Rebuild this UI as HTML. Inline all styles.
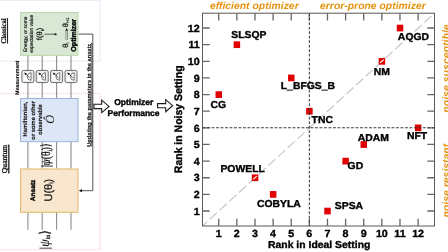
<!DOCTYPE html>
<html><head><meta charset="utf-8"><title>Optimizer Performance</title>
<style>
html,body{margin:0;padding:0;background:#fff;}
body{width:448px;height:252px;overflow:hidden;font-family:"Liberation Sans",sans-serif;}
svg{display:block;}
text{fill:#111;text-rendering:geometricPrecision;}
.d{font-weight:bold;font-family:"Liberation Sans",sans-serif;fill:#000;}
.b{font-weight:bold;font-family:"Liberation Sans",sans-serif;fill:#000;stroke:#000;stroke-width:0.36px;paint-order:stroke;}
.s{font-family:"Liberation Serif","DejaVu Serif",serif;stroke:#111;stroke-width:0.2px;}
.sb{font-family:"Liberation Serif",serif;font-weight:bold;stroke:#111;stroke-width:0.2px;}
.si{font-family:"Liberation Serif",serif;font-style:italic;}
.n{font-family:"Liberation Sans","DejaVu Sans",sans-serif;stroke:#111;stroke-width:0.2px;}
.ss{font-family:"Liberation Serif",serif;fill:#000;stroke:#000;stroke-width:0.3px;}
.ns{font-family:"Liberation Sans",sans-serif;stroke:#111;stroke-width:0.18px;}
.bs{font-weight:bold;font-family:"Liberation Sans",sans-serif;stroke:#111;stroke-width:0.12px;}
.o{font-style:italic;font-weight:bold;fill:#e4930f;font-family:"Liberation Sans",sans-serif;}
</style></head><body>
<svg width="448" height="252" viewBox="0 0 448 252">
<defs><filter id="soft" x="0" y="0" width="448" height="252" filterUnits="userSpaceOnUse"><feGaussianBlur stdDeviation="0.3"/></filter></defs>
<rect width="448" height="252" fill="#fff"/>
<g filter="url(#soft)">
<rect x="-5" y="-5" width="458" height="262" fill="#fff"/>

<g id="diagram">
<path d="M-1 0.4H100V61.2H-1" fill="none" stroke="#9884cc" stroke-width="0.55" stroke-dasharray="0.7 1.3"/>
<path d="M-1 93.3H100V249.8H-1" fill="none" stroke="#d65a5a" stroke-width="0.55" stroke-dasharray="0.7 1.3"/>
<path d="M27.9 55V98.5M27.9 141.5V168.5M27.9 212V229.7M42.2 55V98.5M42.2 141.5V168.5M42.2 212V229.7M56.6 55V98.5M56.6 141.5V168.5M56.6 212V229.7M71 55V98.5M71 141.5V168.5M71 212V229.7" stroke="#8e8e8e" stroke-width="1.1" fill="none"/>
<g transform="translate(27.9 76.5)"><rect x="-6" y="-6.1" width="12" height="12.2" rx="1.6" fill="#f4f4f4" stroke="#5a5a5a" stroke-width="0.9"/><rect x="-4.6" y="-4.7" width="9.2" height="9.4" rx="0.8" fill="#fff" stroke="#d8d8d8" stroke-width="0.5"/><path d="M3.2 -3.8V3.8A3.9 3.8 0 0 1 3.2 -3.8Z" fill="none" stroke="#3a3a3a" stroke-width="0.7"/><path d="M2 1.4L-2.2 -2.6" stroke="#222" stroke-width="0.7"/><path d="M-3.8 -4L-1 -3L-2.7 -1.2Z" fill="#111"/></g>
<g transform="translate(42.2 76.5)"><rect x="-6" y="-6.1" width="12" height="12.2" rx="1.6" fill="#f4f4f4" stroke="#5a5a5a" stroke-width="0.9"/><rect x="-4.6" y="-4.7" width="9.2" height="9.4" rx="0.8" fill="#fff" stroke="#d8d8d8" stroke-width="0.5"/><path d="M3.2 -3.8V3.8A3.9 3.8 0 0 1 3.2 -3.8Z" fill="none" stroke="#3a3a3a" stroke-width="0.7"/><path d="M2 1.4L-2.2 -2.6" stroke="#222" stroke-width="0.7"/><path d="M-3.8 -4L-1 -3L-2.7 -1.2Z" fill="#111"/></g>
<g transform="translate(56.6 76.5)"><rect x="-6" y="-6.1" width="12" height="12.2" rx="1.6" fill="#f4f4f4" stroke="#5a5a5a" stroke-width="0.9"/><rect x="-4.6" y="-4.7" width="9.2" height="9.4" rx="0.8" fill="#fff" stroke="#d8d8d8" stroke-width="0.5"/><path d="M3.2 -3.8V3.8A3.9 3.8 0 0 1 3.2 -3.8Z" fill="none" stroke="#3a3a3a" stroke-width="0.7"/><path d="M2 1.4L-2.2 -2.6" stroke="#222" stroke-width="0.7"/><path d="M-3.8 -4L-1 -3L-2.7 -1.2Z" fill="#111"/></g>
<g transform="translate(71 76.5)"><rect x="-6" y="-6.1" width="12" height="12.2" rx="1.6" fill="#f4f4f4" stroke="#5a5a5a" stroke-width="0.9"/><rect x="-4.6" y="-4.7" width="9.2" height="9.4" rx="0.8" fill="#fff" stroke="#d8d8d8" stroke-width="0.5"/><path d="M3.2 -3.8V3.8A3.9 3.8 0 0 1 3.2 -3.8Z" fill="none" stroke="#3a3a3a" stroke-width="0.7"/><path d="M2 1.4L-2.2 -2.6" stroke="#222" stroke-width="0.7"/><path d="M-3.8 -4L-1 -3L-2.7 -1.2Z" fill="#111"/></g>
<rect x="20.6" y="12.5" width="57.4" height="42.8" fill="#d9e8d5" stroke="#b2d4a2" stroke-width="0.9"/>
<rect x="20.6" y="98.5" width="57.4" height="43.2" fill="#dce6f7" stroke="#93acd6" stroke-width="0.9"/>
<rect x="20.6" y="169" width="57.4" height="43.3" fill="#f9e6cf" stroke="#e2bc72" stroke-width="1.1"/>
<path d="M78.5 34.1H92.8V190.7H81" fill="none" stroke="#2a2a2a" stroke-width="0.8"/>
<path d="M78.8 190.7L82 189.1V192.3Z" fill="#111"/>
<text class="ss" transform="translate(6.2 30.9) rotate(-90)" font-size="7.0" text-anchor="middle" text-decoration="underline">Classical</text>
<text class="ss" transform="translate(7.4 159) rotate(-90)" font-size="7.6" text-anchor="middle" text-decoration="underline">Quantum</text>
<text class="bs" transform="translate(18.7 77.7) rotate(-90)" font-size="5.3" text-anchor="middle">Measurement</text>
<text class="ns" transform="translate(26.9 34.2) rotate(-90)" font-size="4.9" text-anchor="middle">Energy, or some</text>
<text class="ns" transform="translate(32.7 33.8) rotate(-90)" font-size="4.9" text-anchor="middle">expectation value</text>
<text class="n" transform="translate(42.2 34) rotate(-90)" font-size="7.6" text-anchor="middle">f(θ<tspan font-size="4.2" dy="1.4">i</tspan><tspan dy="-1.4">)</tspan></text>
<path d="M44.4 34.2H55.4" stroke="#222" stroke-width="0.7" fill="none"/><path d="M57.4 34.2L54.7 33V35.4Z" fill="#111"/>
<text class="n" transform="translate(68 47.8) rotate(-90)" font-size="7.6" text-anchor="start">θ<tspan font-size="4" dy="1.3">i</tspan></text>
<path d="M65.9 40V30.4M67.5 40V30.4" stroke="#444" stroke-width="0.5" fill="none"/><path d="M66.7 28.1L65.3 30.8H68.1Z" fill="#111"/>
<text class="n" transform="translate(67.8 27.2) rotate(-90)" font-size="7.6" text-anchor="start">θ<tspan font-size="4" dy="1.3">i+1</tspan></text>
<text class="b" transform="translate(76.2 35.3) rotate(-90)" font-size="7.1" text-anchor="middle">Optimizer</text>
<text class="bs" transform="translate(27.3 119) rotate(-90)" font-size="5.8" text-anchor="middle">Hamiltonian,</text>
<text class="bs" transform="translate(34.6 120.3) rotate(-90)" font-size="5.8" text-anchor="middle">or some other</text>
<text class="bs" transform="translate(41.7 119.5) rotate(-90)" font-size="5.8" text-anchor="middle">observable</text>
<text class="si" transform="translate(53.8 119.4) rotate(-90)" font-size="12.3" text-anchor="middle">Ô</text>
<text class="b" transform="translate(35.4 190.4) rotate(-90)" font-size="6.6" text-anchor="middle">Ansatz</text>
<text class="n" transform="translate(51.6 190.2) rotate(-90)" font-size="11" text-anchor="middle">U(θ<tspan font-size="5.8" dy="1.8">i</tspan><tspan dy="-1.8">)</tspan></text>
<text class="s" transform="translate(50 155.2) rotate(-90) scale(1 1.35)" font-size="9.5" text-anchor="middle">|<tspan font-style="italic">ψ</tspan>(θ<tspan font-size="5" dy="1.2">i</tspan><tspan dy="-1.2">)⟩</tspan></text>
<text class="s" transform="translate(48.8 239.6) rotate(-90) scale(1 1.12)" font-size="12" text-anchor="middle">|<tspan font-style="italic">ψ</tspan><tspan font-size="6" dy="1.2">in</tspan><tspan dy="-1.2">⟩</tspan></text>
<text class="bs" transform="translate(90.6 95.3) rotate(-90)" font-size="5.7" text-anchor="middle" text-decoration="underline">Updating the parameters in the ansatz</text>
<path d="M93.9 104.2H101.7V100.2L109 106.4L101.7 112.6V108.6H93.9Z" fill="#fff" stroke="#1a1a1a" stroke-width="1.1" stroke-linejoin="miter"/>
<path d="M157.6 103.6H165.7V99.7L172.6 105.7L165.7 111.7V107.8H157.6Z" fill="#fff" stroke="#1a1a1a" stroke-width="1.1" stroke-linejoin="miter"/>
<text class="b" x="133.8" y="105.2" font-size="8.5" text-anchor="middle">Optimizer</text>
<text class="b" x="133.6" y="116.4" font-size="8.5" text-anchor="middle">Performance</text>
</g>
<g id="plot">
<path d="M202.5 226.0L434.5 13.2" stroke="#c6c6c6" stroke-width="1.15" stroke-dasharray="9.77 3.46" stroke-dashoffset="3.3" fill="none"/>
<rect x="202.5" y="13.2" width="232.0" height="212.8" fill="none" stroke="#585858" stroke-width="1"/>
<path d="M218.725 226.0v-7.2M218.725 13.2v7.2M202.5 211.0h7.2M434.5 211.0h-7.2M236.85 226.0v-7.2M236.85 13.2v7.2M202.5 194.364h7.2M434.5 194.364h-7.2M254.975 226.0v-7.2M254.975 13.2v7.2M202.5 177.728h7.2M434.5 177.728h-7.2M273.1 226.0v-7.2M273.1 13.2v7.2M202.5 161.09199999999998h7.2M434.5 161.09199999999998h-7.2M291.225 226.0v-7.2M291.225 13.2v7.2M202.5 144.45600000000002h7.2M434.5 144.45600000000002h-7.2M309.35 226.0v-7.2M309.35 13.2v7.2M202.5 127.82000000000001h7.2M434.5 127.82000000000001h-7.2M327.475 226.0v-7.2M327.475 13.2v7.2M202.5 111.184h7.2M434.5 111.184h-7.2M345.6 226.0v-7.2M345.6 13.2v7.2M202.5 94.548h7.2M434.5 94.548h-7.2M363.725 226.0v-7.2M363.725 13.2v7.2M202.5 77.912h7.2M434.5 77.912h-7.2M381.85 226.0v-7.2M381.85 13.2v7.2M202.5 61.27600000000001h7.2M434.5 61.27600000000001h-7.2M399.975 226.0v-7.2M399.975 13.2v7.2M202.5 44.640000000000015h7.2M434.5 44.640000000000015h-7.2M418.1 226.0v-7.2M418.1 13.2v7.2M202.5 28.00400000000002h7.2M434.5 28.00400000000002h-7.2" stroke="#666" stroke-width="1.3" fill="none"/>
<text class="b" transform="translate(218.72 237.00) scale(1.01 0.975)" font-size="10.6" text-anchor="middle">1</text>
<text class="b" transform="translate(199.70 214.70) scale(1.01 0.975)" font-size="10.6" text-anchor="end">1</text>
<text class="b" transform="translate(236.85 237.00) scale(1.01 0.975)" font-size="10.6" text-anchor="middle">2</text>
<text class="b" transform="translate(199.70 198.06) scale(1.01 0.975)" font-size="10.6" text-anchor="end">2</text>
<text class="b" transform="translate(254.97 237.00) scale(1.01 0.975)" font-size="10.6" text-anchor="middle">3</text>
<text class="b" transform="translate(199.70 181.43) scale(1.01 0.975)" font-size="10.6" text-anchor="end">3</text>
<text class="b" transform="translate(273.10 237.00) scale(1.01 0.975)" font-size="10.6" text-anchor="middle">4</text>
<text class="b" transform="translate(199.70 164.79) scale(1.01 0.975)" font-size="10.6" text-anchor="end">4</text>
<text class="b" transform="translate(291.23 237.00) scale(1.01 0.975)" font-size="10.6" text-anchor="middle">5</text>
<text class="b" transform="translate(199.70 148.16) scale(1.01 0.975)" font-size="10.6" text-anchor="end">5</text>
<text class="b" transform="translate(309.35 237.00) scale(1.01 0.975)" font-size="10.6" text-anchor="middle">6</text>
<text class="b" transform="translate(199.70 131.52) scale(1.01 0.975)" font-size="10.6" text-anchor="end">6</text>
<text class="b" transform="translate(327.48 237.00) scale(1.01 0.975)" font-size="10.6" text-anchor="middle">7</text>
<text class="b" transform="translate(199.70 114.88) scale(1.01 0.975)" font-size="10.6" text-anchor="end">7</text>
<text class="b" transform="translate(345.60 237.00) scale(1.01 0.975)" font-size="10.6" text-anchor="middle">8</text>
<text class="b" transform="translate(199.70 98.25) scale(1.01 0.975)" font-size="10.6" text-anchor="end">8</text>
<text class="b" transform="translate(363.73 237.00) scale(1.01 0.975)" font-size="10.6" text-anchor="middle">9</text>
<text class="b" transform="translate(199.70 81.61) scale(1.01 0.975)" font-size="10.6" text-anchor="end">9</text>
<text class="b" transform="translate(381.85 237.00) scale(1.01 0.975)" font-size="10.6" text-anchor="middle">10</text>
<text class="b" transform="translate(199.70 64.98) scale(1.01 0.975)" font-size="10.6" text-anchor="end">10</text>
<text class="b" transform="translate(399.98 237.00) scale(1.01 0.975)" font-size="10.6" text-anchor="middle">11</text>
<text class="b" transform="translate(199.70 48.34) scale(1.01 0.975)" font-size="10.6" text-anchor="end">11</text>
<text class="b" transform="translate(418.10 237.00) scale(1.01 0.975)" font-size="10.6" text-anchor="middle">12</text>
<text class="b" transform="translate(199.70 31.70) scale(1.01 0.975)" font-size="10.6" text-anchor="end">12</text>
<rect x="233.65" y="41.34" width="6.5" height="6.7" fill="#e00006"/>
<rect x="215.53" y="91.25" width="6.5" height="6.7" fill="#e00006"/>
<rect x="288.03" y="74.61" width="6.5" height="6.7" fill="#e00006"/>
<rect x="306.15" y="107.88" width="6.5" height="6.7" fill="#e00006"/>
<rect x="251.78" y="174.43" width="6.5" height="6.7" fill="#e00006"/>
<path d="M253.17 179.33L256.77 176.13" stroke="#fff" stroke-width="1.2"/>
<rect x="269.90" y="191.06" width="6.5" height="6.7" fill="#e00006"/>
<rect x="324.28" y="207.70" width="6.5" height="6.7" fill="#e00006"/>
<rect x="342.40" y="157.79" width="6.5" height="6.7" fill="#e00006"/>
<rect x="360.53" y="141.16" width="6.5" height="6.7" fill="#e00006"/>
<rect x="414.90" y="124.52" width="6.5" height="6.7" fill="#e00006"/>
<rect x="378.65" y="57.98" width="6.5" height="6.7" fill="#e00006"/>
<path d="M380.05 62.88L383.65 59.68" stroke="#fff" stroke-width="1.2"/>
<rect x="396.78" y="24.70" width="6.5" height="6.7" fill="#e00006"/>
<path d="M309.35 13.2V226.0M202.5 127.82000000000001H434.5" stroke="#3c3c3c" stroke-width="1.05" stroke-dasharray="2.9 1.6" fill="none"/>
<text class="b" transform="translate(248.85 38.34) scale(1.01 0.975)" font-size="10.3" text-anchor="middle">SLSQP</text>
<text class="b" transform="translate(218.22 107.95) scale(1.01 0.975)" font-size="10.3" text-anchor="middle">CG</text>
<text class="b" transform="translate(307.93 88.66) scale(1.01 0.975)" font-size="10.3" text-anchor="middle">L_BFGS_B</text>
<text class="b" transform="translate(311.55 123.13) scale(1.01 0.975)" font-size="10.3" text-anchor="start">TNC</text>
<text class="b" transform="translate(264.88 172.43) scale(1.01 0.975)" font-size="10.3" text-anchor="end">POWELL</text>
<text class="b" transform="translate(278.90 207.46) scale(1.01 0.975)" font-size="10.3" text-anchor="middle">COBYLA</text>
<text class="b" transform="translate(334.78 208.70) scale(1.01 0.975)" font-size="10.3" text-anchor="start">SPSA</text>
<text class="b" transform="translate(347.60 169.49) scale(1.01 0.975)" font-size="10.3" text-anchor="start">GD</text>
<text class="b" transform="translate(373.23 140.56) scale(1.01 0.975)" font-size="10.3" text-anchor="middle">ADAM</text>
<text class="b" transform="translate(417.00 139.22) scale(1.01 0.975)" font-size="10.3" text-anchor="middle">NFT</text>
<text class="b" transform="translate(381.85 74.98) scale(1.01 0.975)" font-size="10.3" text-anchor="middle">NM</text>
<text class="b" transform="translate(413.48 40.30) scale(1.01 0.975)" font-size="10.3" text-anchor="middle">AQGD</text>
<text class="b" transform="translate(319.20 248.00) scale(1.01 0.975)" font-size="10.3" text-anchor="middle">Rank in Ideal Setting</text>
<text class="b" transform="translate(182.30 119.30) scale(1.01 0.975) rotate(-90)" font-size="10.75" text-anchor="middle">Rank in Noisy Setting</text>
<text class="o" transform="translate(209.90 8.60) scale(1.01 0.975)" font-size="10.3" text-anchor="start">efficient optimizer</text>
<text class="o" transform="translate(320.00 8.60) scale(1.01 0.975)" font-size="10.3" text-anchor="start">error-prone optimizer</text>
<text class="o" transform="translate(449.50 68.50) scale(1.01 0.975) rotate(-90)" font-size="10.8" text-anchor="middle">noise susceptible</text>
<text class="o" transform="translate(450.30 180.60) scale(1.01 0.975) rotate(-90)" font-size="10.7" text-anchor="middle">noise resistant</text>
</g>
</g>
</svg>
</body></html>
